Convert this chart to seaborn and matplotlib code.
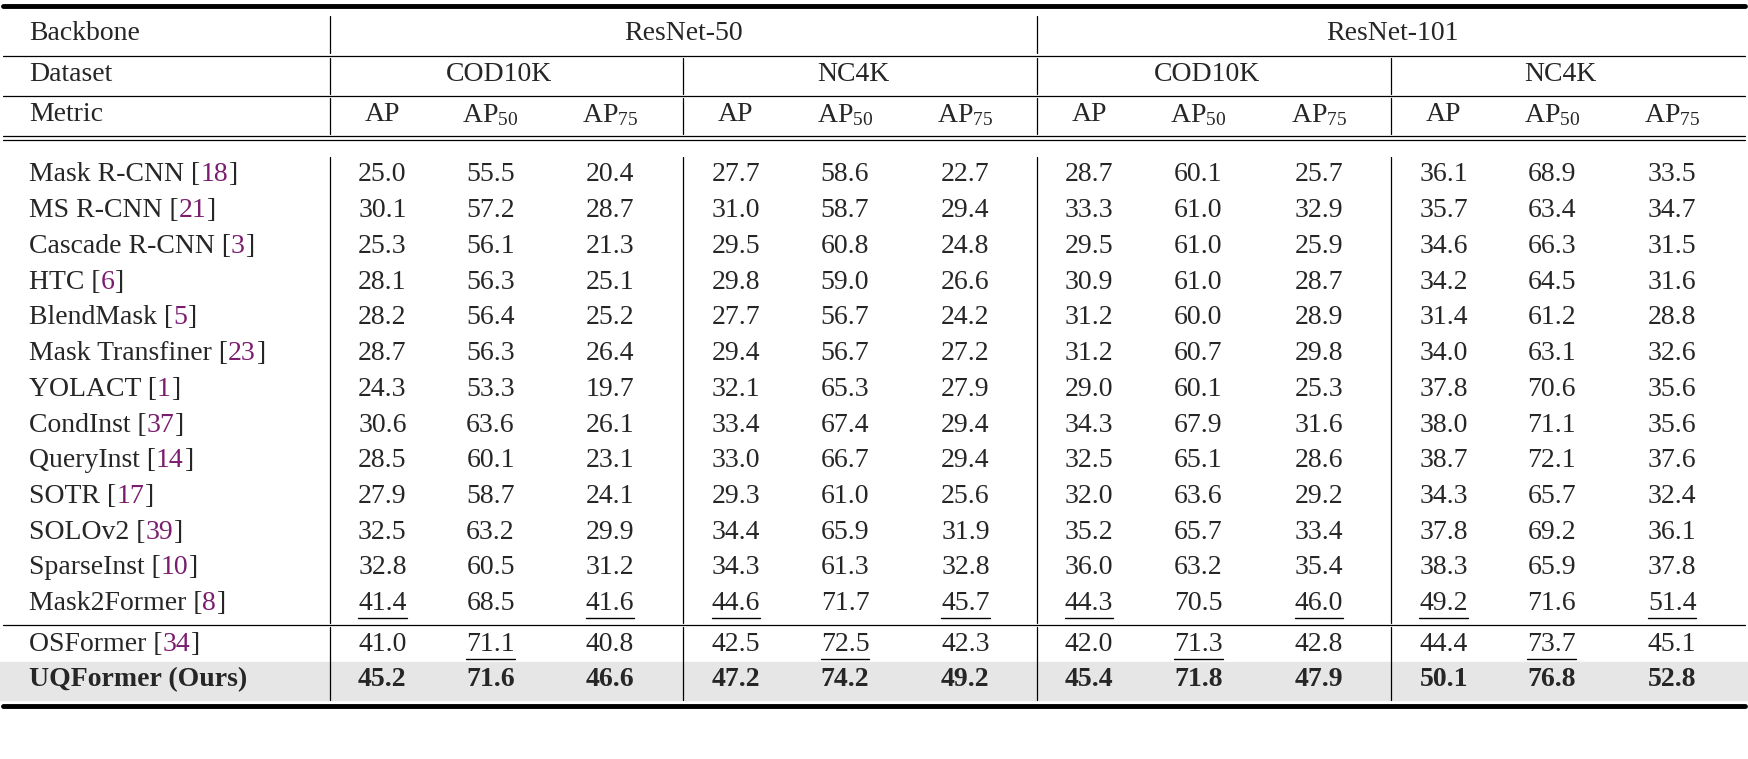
import numpy as np
import seaborn as sns
import matplotlib.pyplot as plt

sns.set_theme(style="white")
plt.rcParams['font.family'] = ['Liberation Serif', 'DejaVu Serif']
plt.rcParams['mathtext.fontset'] = 'custom'
plt.rcParams['mathtext.rm'] = 'Liberation Serif'
plt.rcParams['mathtext.it'] = 'Liberation Serif:italic'

methods = ["Mask R-CNN", "MS R-CNN", "Cascade R-CNN", "HTC", "BlendMask", "Mask Transfiner",
           "YOLACT", "CondInst", "QueryInst", "SOTR", "SOLOv2", "SparseInst", "Mask2Former",
           "OSFormer", "UQFormer (Ours)"]
refs = ["18", "21", "3", "6", "5", "23", "1", "37", "14", "17", "39", "10", "8", "34", None]
scores = [
    [25.0, 55.5, 20.4, 27.7, 58.6, 22.7, 28.7, 60.1, 25.7, 36.1, 68.9, 33.5],
    [30.1, 57.2, 28.7, 31.0, 58.7, 29.4, 33.3, 61.0, 32.9, 35.7, 63.4, 34.7],
    [25.3, 56.1, 21.3, 29.5, 60.8, 24.8, 29.5, 61.0, 25.9, 34.6, 66.3, 31.5],
    [28.1, 56.3, 25.1, 29.8, 59.0, 26.6, 30.9, 61.0, 28.7, 34.2, 64.5, 31.6],
    [28.2, 56.4, 25.2, 27.7, 56.7, 24.2, 31.2, 60.0, 28.9, 31.4, 61.2, 28.8],
    [28.7, 56.3, 26.4, 29.4, 56.7, 27.2, 31.2, 60.7, 29.8, 34.0, 63.1, 32.6],
    [24.3, 53.3, 19.7, 32.1, 65.3, 27.9, 29.0, 60.1, 25.3, 37.8, 70.6, 35.6],
    [30.6, 63.6, 26.1, 33.4, 67.4, 29.4, 34.3, 67.9, 31.6, 38.0, 71.1, 35.6],
    [28.5, 60.1, 23.1, 33.0, 66.7, 29.4, 32.5, 65.1, 28.6, 38.7, 72.1, 37.6],
    [27.9, 58.7, 24.1, 29.3, 61.0, 25.6, 32.0, 63.6, 29.2, 34.3, 65.7, 32.4],
    [32.5, 63.2, 29.9, 34.4, 65.9, 31.9, 35.2, 65.7, 33.4, 37.8, 69.2, 36.1],
    [32.8, 60.5, 31.2, 34.3, 61.3, 32.8, 36.0, 63.2, 35.4, 38.3, 65.9, 37.8],
    [41.4, 68.5, 41.6, 44.6, 71.7, 45.7, 44.3, 70.5, 46.0, 49.2, 71.6, 51.4],
    [41.0, 71.1, 40.8, 42.5, 72.5, 42.3, 42.0, 71.3, 42.8, 44.4, 73.7, 45.1],
    [45.2, 71.6, 46.6, 47.2, 74.2, 49.2, 45.4, 71.8, 47.9, 50.1, 76.8, 52.8],
]
backbones = ["ResNet-50", "ResNet-101"]
datasets = ["COD10K", "NC4K", "COD10K", "NC4K"]
metrics = ["AP", r"AP$_{50}$", r"AP$_{75}$"] * 4

# second best per column is underlined
arr = np.array(scores)
second = [np.argsort(arr[:, j])[-2] for j in range(arr.shape[1])]

# layout in a 1568x681 coordinate frame, drawn onto a 1748x759 figure
W, H = 1568, 681
fig = plt.figure(figsize=(17.48, 7.59), dpi=100)
ax = fig.add_axes([0, 0, 1, 1])
ax.set_xlim(0, W)
ax.set_ylim(H, 0)
ax.axis('off')

fs = 20
lw = 0.9
cite_color = '#7b1d6f'
col_x = [343, 440, 547, 660, 758, 866, 977, 1075, 1183, 1295, 1392, 1500]
vlines = [296, 613, 930, 1248]
row_y0, row_dy = 157, 32.05
row_y = [row_y0 + i * row_dy for i in range(13)] + [578, 610]

# gray band for ours
ax.axhspan(594, 628, color='#e6e6e6', zorder=0)

# horizontal rules
ax.plot([3, W - 3], [5, 5], color='black', lw=3.5)
for y in [50, 86, 122, 126, 561]:
    ax.plot([3, W - 3], [y, y], color='black', lw=lw)
ax.plot([3, W - 3], [633, 633], color='black', lw=3.5)

# vertical rules
for y0, y1, xs in [(14, 48, [296, 930]), (52, 84, vlines), (88, 120, vlines),
                   (141, 559, vlines), (563, 628, vlines)]:
    for x in xs:
        ax.plot([x, x], [y0, y1], color='black', lw=lw)

# header
ax.text(26, 30, "Backbone", fontsize=fs, va='center')
ax.text(26, 67, "Dataset", fontsize=fs, va='center')
ax.text(26, 103, "Metric", fontsize=fs, va='center')
for i, b in enumerate(backbones):
    ax.text((vlines[2 * i] + [930, W][i]) / 2, 30, b, fontsize=fs, ha='center', va='center')
for i, d in enumerate(datasets):
    ax.text(np.mean(col_x[3 * i:3 * i + 3]) + 4, 67, d, fontsize=fs, ha='center', va='center')
for x, m in zip(col_x, metrics):
    ax.text(x, 103, m, fontsize=fs, ha='center', va='center')

fig.canvas.draw()
renderer = fig.canvas.get_renderer()
inv = ax.transData.inverted()

for i, (name, ref) in enumerate(zip(methods, refs)):
    y = row_y[i]
    bold = ref is None
    t = ax.text(26, y, name + (" [" if ref else ""), fontsize=fs, va='center',
                fontweight='bold' if bold else 'normal')
    if ref:
        x_end = inv.transform(t.get_window_extent(renderer).get_points())[1, 0]
        t2 = ax.text(x_end, y, ref, fontsize=fs, va='center', color=cite_color)
        x_end = inv.transform(t2.get_window_extent(renderer).get_points())[1, 0]
        ax.text(x_end, y, "]", fontsize=fs, va='center')
    for j, x in enumerate(col_x):
        t = ax.text(x, y, f"{scores[i][j]:.1f}", fontsize=fs, ha='center', va='center',
                    fontweight='bold' if bold else 'normal')
        if second[j] == i:
            pts = inv.transform(t.get_window_extent(renderer).get_points())
            ax.plot([pts[0, 0], pts[1, 0]], [y + 13, y + 13], color='black', lw=1.0)

fig.savefig("out.png", dpi=100)
